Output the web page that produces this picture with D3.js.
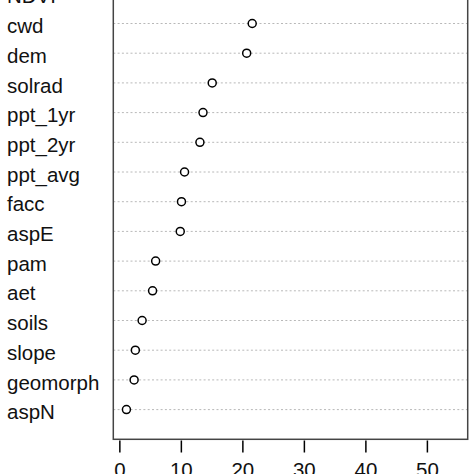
<!DOCTYPE html>
<html>
<head>
<meta charset="utf-8">
<script src="https://cdn.jsdelivr.net/npm/d3@7"></script>
<style>
  html, body { margin: 0; padding: 0; background: #fff; overflow: hidden; }
  svg { display: block; }
</style>
</head>
<body>
<script>
// Variable importance (top to bottom)
const variables = ["NDVI", "cwd", "dem", "solrad", "ppt_1yr", "ppt_2yr", "ppt_avg", "facc",
                   "aspE", "pam", "aet", "soils", "slope", "geomorph", "aspN"];
const importance = [54.5, 21.6, 20.7, 15.1, 13.6, 13.1, 10.6, 10.1,
                    9.9, 5.9, 5.4, 3.7, 2.6, 2.4, 1.15];
const xTicks = [0, 10, 20, 30, 40, 50];

const W = 474, H = 474;
const svg = d3.select("body").append("svg").attr("width", W).attr("height", H);

const n = variables.length;
const box = { left: 113.3, right: 467.7, bottom: 439.3 };
const rowStep = 29.7;

// x domain like R: data range extended by 4% on each side
const lo = d3.min(importance), hi = d3.max(importance);
const ext = (hi - lo) * 0.04;
const x = d3.scaleLinear().domain([lo - ext, hi + ext]).range([box.left, box.right]);
// y: row index 1..n from bottom, plot window 0..n+1
const y = d3.scaleLinear().domain([0, n + 1]).range([box.bottom, box.bottom - (n + 1) * rowStep]);

const rows = variables.map((v, i) => ({ name: v, value: importance[i], pos: n - i }));

// dotted guide lines
svg.append("g").selectAll("line").data(rows).join("line")
  .attr("x1", box.left).attr("x2", box.right)
  .attr("y1", d => y(d.pos)).attr("y2", d => y(d.pos))
  .attr("stroke", "#b8b8b8").attr("stroke-width", 1)
  .attr("stroke-dasharray", "2,2.3");

// points
svg.append("g").selectAll("circle").data(rows).join("circle")
  .attr("cx", d => x(d.value)).attr("cy", d => y(d.pos)).attr("r", 4)
  .attr("fill", "#fff").attr("stroke", "#000").attr("stroke-width", 1.5);

// box
svg.append("rect")
  .attr("x", box.left).attr("y", y(n + 1))
  .attr("width", box.right - box.left).attr("height", box.bottom - y(n + 1))
  .attr("fill", "none").attr("stroke", "#444").attr("stroke-width", 1.5);

// labels
svg.append("g").selectAll("text").data(rows).join("text")
  .attr("x", 7).attr("y", d => y(d.pos) + 9.6)
  .attr("font-family", "Liberation Sans, Arial, sans-serif")
  .attr("font-size", 20.5).attr("fill", "#111")
  .text(d => d.name);

// x axis
const axis = d3.axisBottom(x).tickValues(xTicks).tickSize(12).tickSizeOuter(0).tickFormat(d3.format("d"));
const gx = svg.append("g").attr("transform", `translate(0,${box.bottom + 1.2})`).call(axis);
gx.select(".domain").remove();
gx.selectAll(".tick line").attr("stroke", "#000").attr("stroke-width", 1.5);
gx.selectAll(".tick text")
  .attr("y", 36.8).attr("dy", null)
  .attr("font-family", "Liberation Sans, Arial, sans-serif")
  .attr("font-size", 20.5).attr("fill", "#111");
</script>
</body>
</html>
